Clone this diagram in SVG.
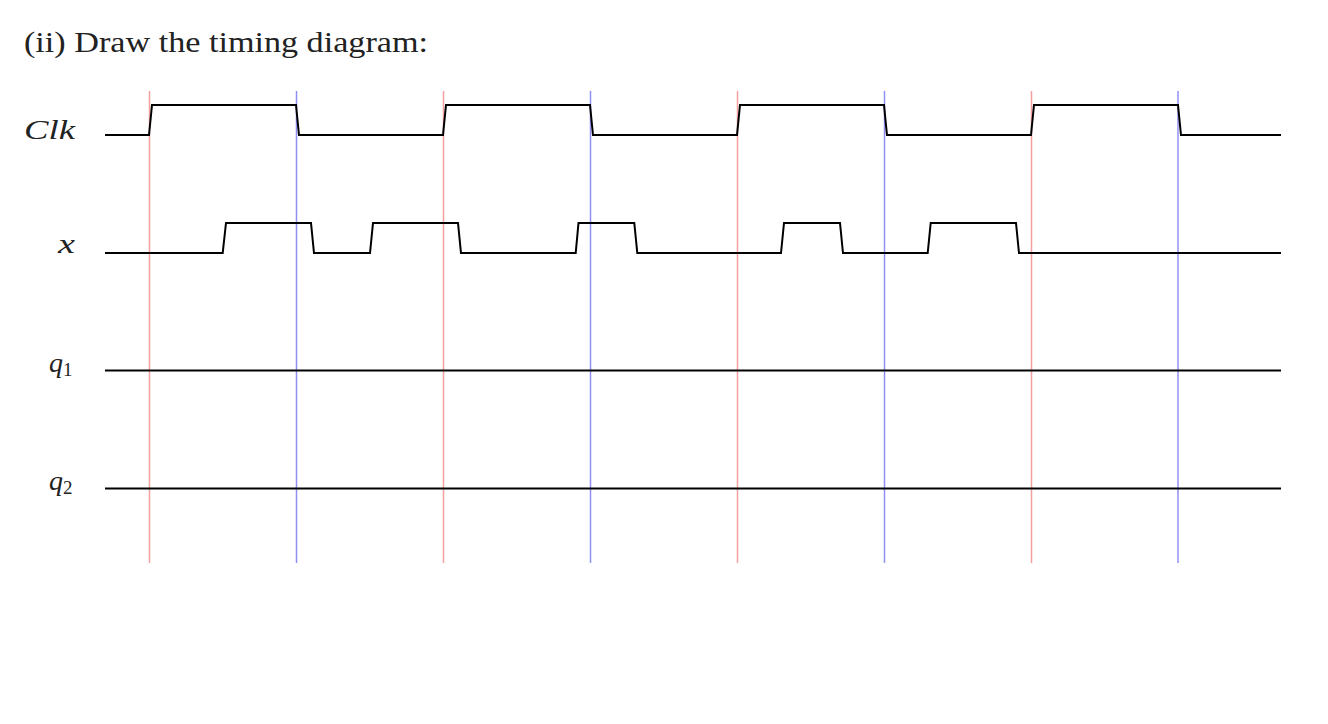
<svg xmlns="http://www.w3.org/2000/svg" width="1328" height="724" viewBox="0 0 1328 724">
<style>
.title{font-family:"Liberation Serif","DejaVu Serif",serif;font-size:30px;fill:#222}
.lbl{font-family:"Liberation Serif","DejaVu Serif",serif;font-style:italic;font-size:28px;fill:#222}
.sub{font-family:"Liberation Serif","DejaVu Serif",serif;font-style:normal;font-size:19px;fill:#222}
.wave{fill:none;stroke:#000;stroke-width:2;stroke-linejoin:miter}
.rise{stroke:#f4a0a0;stroke-width:1.5}
.fall{stroke:#9090f4;stroke-width:1.5}
</style>
<rect width="1328" height="724" fill="#fff"/>
<text class="title" x="24" y="52" textLength="404" lengthAdjust="spacingAndGlyphs">(ii) Draw the timing diagram:</text>
<g id="guides">
<line class="rise" x1="149.5" y1="91" x2="149.5" y2="563"/>
<line class="rise" x1="443.5" y1="91" x2="443.5" y2="563"/>
<line class="rise" x1="737.5" y1="91" x2="737.5" y2="563"/>
<line class="rise" x1="1031.5" y1="91" x2="1031.5" y2="563"/>
<line class="fall" x1="296.5" y1="91" x2="296.5" y2="563"/>
<line class="fall" x1="590.5" y1="91" x2="590.5" y2="563"/>
<line class="fall" x1="884.5" y1="91" x2="884.5" y2="563"/>
<line class="fall" x1="1178" y1="91" x2="1178" y2="563"/>
</g>
<g id="clk">
<text class="lbl" x="24" y="139" textLength="51" lengthAdjust="spacingAndGlyphs">Clk</text>
<path class="wave" d="M105,135 H149 L152,105 H296 L299,135 H443 L446,105 H590 L593,135 H737 L740,105 H884 L887,135 H1031 L1034,105 H1178 L1181,135 H1281"/>
</g>
<g id="x">
<text class="lbl" x="58" y="253" textLength="17" lengthAdjust="spacingAndGlyphs">x</text>
<path class="wave" d="M105,253 H222.7 L226,223 H311 L314,253 H370 L373,223 H458 L461,253 H575.7 L578.5,223 H634.3 L637.3,253 H781 L784,223 H840 L843,253 H927.7 L930.7,223 H1016 L1019,253 H1281"/>
</g>
<g id="q1">
<text class="lbl" x="49" y="372">q<tspan class="sub" dy="4">1</tspan></text>
<path class="wave" d="M105,370.5 H1281"/>
</g>
<g id="q2">
<text class="lbl" x="49" y="490">q<tspan class="sub" dy="4">2</tspan></text>
<path class="wave" d="M105,488.5 H1281"/>
</g>
</svg>
